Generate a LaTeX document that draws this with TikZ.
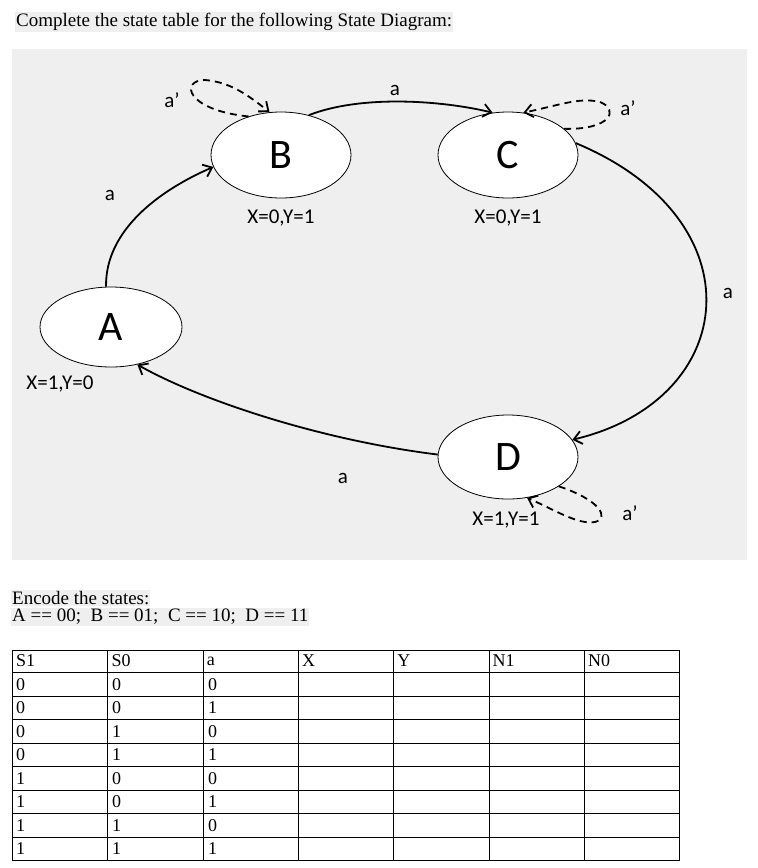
\documentclass[tikz,border=0pt]{standalone}
\usepackage{fontspec}
\setmainfont{Liberation Serif}
\newfontfamily\calfont{Carlito}
\usetikzlibrary{arrows.meta,shapes.geometric}
\definecolor{panel}{HTML}{EFEFEF}
\begin{document}
\begin{tikzpicture}[x=1pt,y=-1pt,
 st/.style={ellipse,draw=black,fill=white,minimum width=140pt,minimum height=86pt,font=\calfont\fontsize{42}{44}\selectfont,line width=0.8pt},
 lab/.style={font=\calfont\fontsize{21}{23}\selectfont,inner sep=1pt},
 arr/.style={-{Straight Barb[length=8pt,width=13pt]},line width=1.8pt},
 darr/.style={arr,dash pattern=on 7pt off 5pt},
 txt/.style={font=\fontsize{19}{21}\selectfont,fill=panel,inner sep=1pt,anchor=west},
 cell/.style={font=\fontsize{18}{20}\selectfont,anchor=west,inner sep=0pt}]
\useasboundingbox (0,0) rectangle (758,868);
\node[txt] (title) at (15,22) {Complete the state table for the following State Diagram:};
\fill[panel] (12,49) rectangle (747,560);
\node[st] (B) at (281,155) {B};
\node[st] (C) at (508,155) {C};
\node[st,minimum width=142pt,minimum height=80pt] (A) at (111,327) {A};
\node[st,minimum height=84pt] (D) at (508,457) {D};
\node[lab] (lB) at (281,218) {X=0,Y=1};
\node[lab] (lC) at (508,218) {X=0,Y=1};
\node[lab] (lA) at (60,384) {X=1,Y=0};
\node[lab] (lD) at (506,520) {X=1,Y=1};
\draw[arr] (A.97) .. controls (105,230) and (160,190) .. (B.190);
\node[lab] (a1) at (110,195) {a};
\draw[arr] (B.55) .. controls (360,95) and (440,100) .. (C.110);
\node[lab] (a2) at (395,90) {a};
\draw[arr] (C.10) .. controls (760,220) and (740,400) .. (D.15);
\node[lab] (a3) at (728,293) {a};
\draw[arr] (D.178) .. controls (320,440) and (200,400) .. (A.-55);
\node[lab] (a4) at (343,478) {a};
\draw[darr] (B.130) .. controls (185,110) and (180,80) .. (205,80) .. controls (230,82) and (248,95) .. (B.105);
\node[lab] (aB) at (172,100) {a’};
\draw[darr] (C.25) .. controls (610,130) and (620,110) .. (600,102) .. controls (580,97) and (560,105) .. (C.70);
\node[lab] (aC) at (628,108) {a’};
\draw[darr] (D.-30) .. controls (600,500) and (610,518) .. (595,522) .. controls (578,525) and (555,510) .. (D.-65);
\node[lab] (aD) at (630,513) {a’};
\node[txt] (enc) at (11,598) {Encode the states:};
\node[txt] (codes) at (11,617) {A == 00;\ \ B == 01;\ \ C == 10;\ \ D == 11};
\draw[line width=1pt] (12,650) rectangle (679,860);
\foreach \x in {107,203,298,393,489,584} \draw[line width=1pt] (\x,650) -- (\x,860);
\foreach \i in {1,...,8} \draw[line width=1pt] (12,650+23.5*\i-1) -- (679,650+23.5*\i-1);
\foreach \t [count=\k from 0] in {S1,S0,a,X,Y,N1,N0} \node[cell] (h\k) at (16+95.3*\k,661) {\t};
\foreach \a/\b/\c [count=\r] in {0/0/0,0/0/1,0/1/0,0/1/1,1/0/0,1/0/1,1/1/0,1/1/1}{
 \node[cell] at (16,661+23.5*\r) {\a};
 \node[cell] at (112,661+23.5*\r) {\b};
 \node[cell] at (208,661+23.5*\r) {\c};}
\end{tikzpicture}
\end{document}
